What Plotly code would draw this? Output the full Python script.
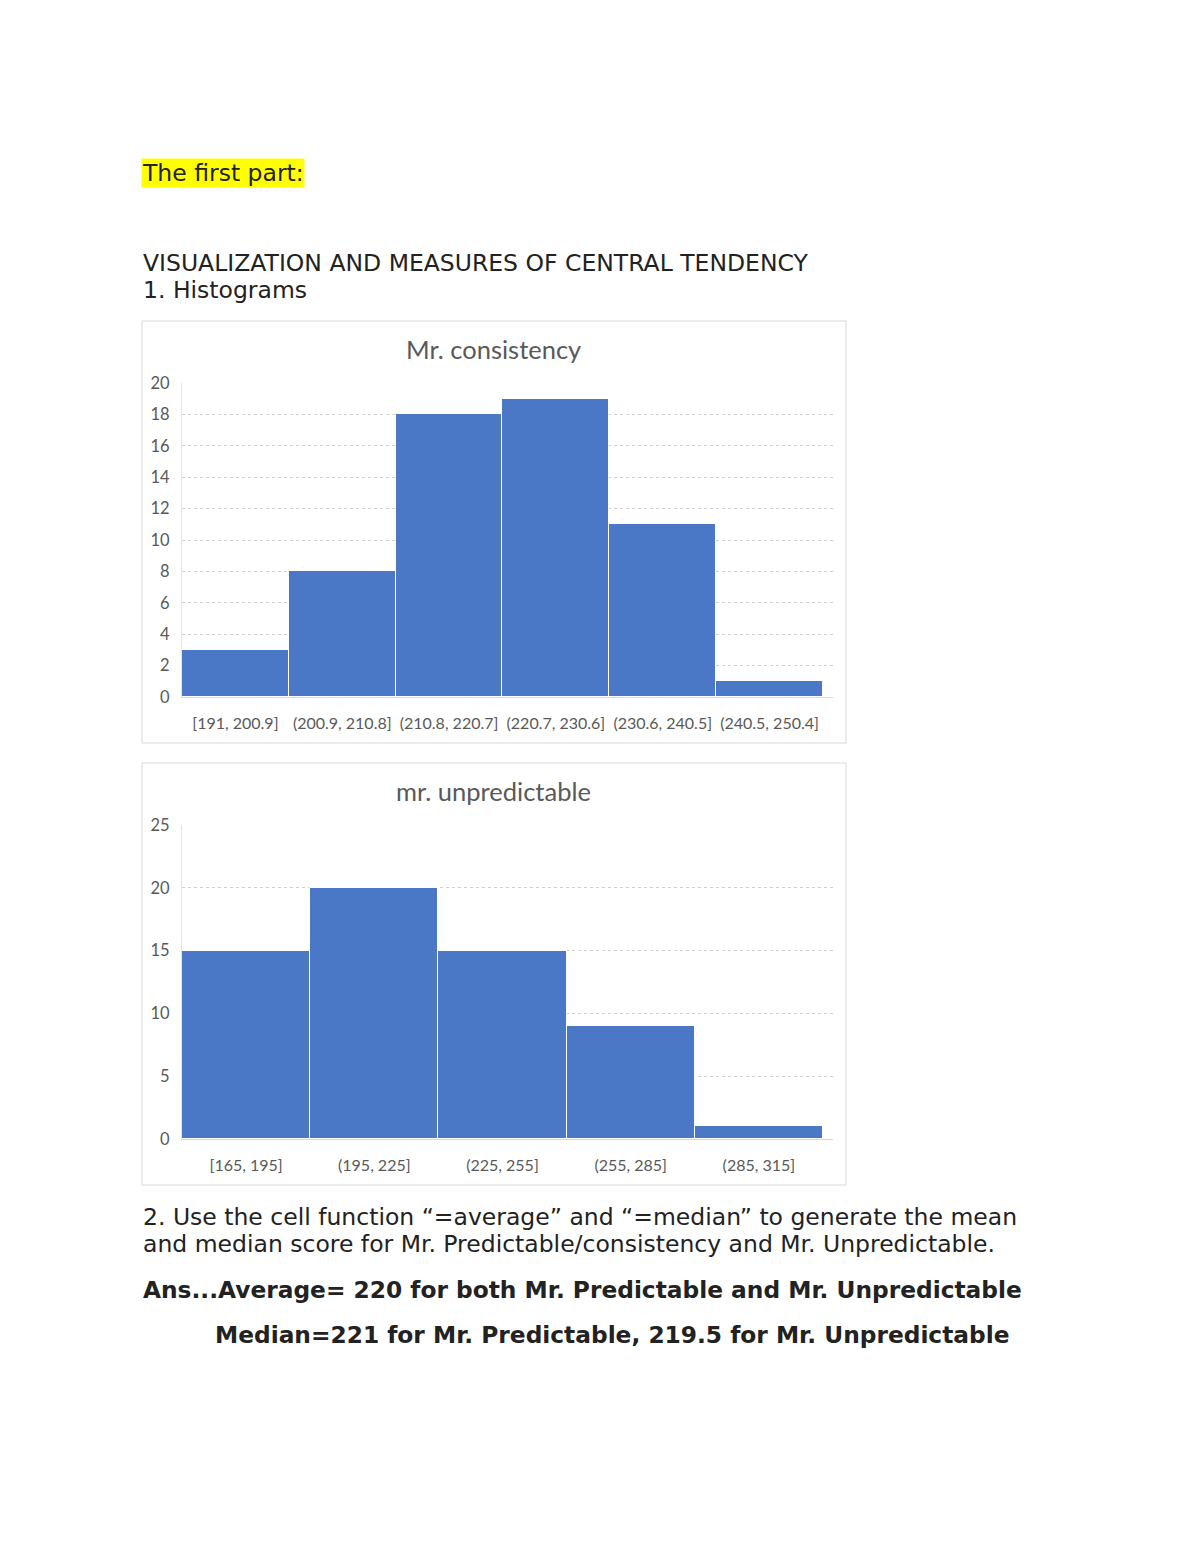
import plotly.graph_objects as go

# page body has 8px margin; keep the figure inside the 1200x1553 window
OFF = 8
FW, FH = 1200 - 2 * OFF, 1553 - 2 * OFF

# ---- data ----
consistency_bins = ["[191, 200.9]", "(200.9, 210.8]", "(210.8, 220.7]", "(220.7, 230.6]", "(230.6, 240.5]", "(240.5, 250.4]"]
consistency_counts = [3, 8, 18, 19, 11, 1]
unpredictable_bins = ["[165, 195]", "(195, 225]", "(225, 255]", "(255, 285]", "(285, 315]"]
unpredictable_counts = [15, 20, 15, 9, 1]
consistency_yticks = [0, 2, 4, 6, 8, 10, 12, 14, 16, 18, 20]
unpredictable_yticks = [0, 5, 10, 15, 20, 25]

BAR = "#4a78c6"
GRID = "#d0d0d0"
TICKC = "#595959"
TXT = "#222222"
BODY_FONT = "DejaVu Sans"
CHART_FONT = "Lato"
BODY_SIZE = 23.5


def px(x):
    return (x - OFF) / FW


def py(y):
    return 1 - (y - OFF) / FH


fig = go.Figure()
fig.add_trace(go.Bar(x=consistency_bins, y=consistency_counts, marker=dict(color=BAR, line=dict(color="white", width=1)),
                     xaxis="x", yaxis="y", showlegend=False, hoverinfo="x+y"))
fig.add_trace(go.Bar(x=unpredictable_bins, y=unpredictable_counts, marker=dict(color=BAR, line=dict(color="white", width=1)),
                     xaxis="x2", yaxis="y2", showlegend=False, hoverinfo="x+y"))

xcommon = dict(showgrid=False, showline=True, linecolor="#d9d9d9", linewidth=1, ticks="",
               tickfont=dict(family=CHART_FONT, size=16, color=TICKC), ticklabelstandoff=12, fixedrange=True)
ycommon = dict(showgrid=True, gridcolor=GRID, griddash="dot", gridwidth=1, zeroline=False, showline=True,
               linecolor="#e3e3e3", linewidth=1, ticks="", tickfont=dict(family=CHART_FONT, size=16.5, color=TICKC),
               ticklabelstandoff=8, fixedrange=True)

n1 = len(consistency_bins)
n2 = len(unpredictable_bins)
fig.update_layout(
    width=FW, height=FH, margin=dict(l=0, r=0, t=0, b=0, autoexpand=False),
    paper_bgcolor="white", plot_bgcolor="white", bargap=0,
    xaxis=dict(domain=[px(182), px(833)], anchor="y", range=[-0.5, n1 - 0.5 + 0.094], **xcommon),
    yaxis=dict(domain=[py(697), py(383)], anchor="x", range=[0, 20], tickvals=consistency_yticks, **ycommon),
    xaxis2=dict(domain=[px(182), px(833)], anchor="y2", range=[-0.5, n2 - 0.5 + 0.078], **xcommon),
    yaxis2=dict(domain=[py(1139), py(825)], anchor="x2", range=[0, 25], tickvals=unpredictable_yticks, **ycommon),
)

# chart borders
for (x0, y0, x1, y1) in [(142, 321, 846, 743), (142, 763, 846, 1185)]:
    fig.add_shape(type="rect", xref="paper", yref="paper", x0=px(x0), x1=px(x1), y0=py(y0), y1=py(y1),
                  line=dict(color="#d9d9d9", width=1), fillcolor="rgba(0,0,0,0)", layer="below")

annotations = [
    dict(text="Mr. consistency", x=px(493), y=py(349), xanchor="center", font=dict(family=CHART_FONT, size=25.5, color=TICKC)),
    dict(text="mr. unpredictable", x=px(493), y=py(791), xanchor="center", font=dict(family=CHART_FONT, size=25.5, color=TICKC)),
    dict(text="The first part:", x=px(141), y=py(173), xanchor="left", bgcolor="#ffff00", borderpad=0,
         font=dict(family=BODY_FONT, size=BODY_SIZE, color=TXT)),
    dict(text="VISUALIZATION AND MEASURES OF CENTRAL TENDENCY", x=px(141), y=py(263), xanchor="left",
         font=dict(family=BODY_FONT, size=BODY_SIZE, color=TXT)),
    dict(text="1. Histograms", x=px(141), y=py(290), xanchor="left", font=dict(family=BODY_FONT, size=BODY_SIZE, color=TXT)),
    dict(text="2. Use the cell function \u201c=average\u201d and \u201c=median\u201d to generate the mean", x=px(141), y=py(1217),
         xanchor="left", font=dict(family=BODY_FONT, size=BODY_SIZE, color=TXT)),
    dict(text="and median score for Mr. Predictable/consistency and Mr. Unpredictable.", x=px(141), y=py(1244),
         xanchor="left", font=dict(family=BODY_FONT, size=BODY_SIZE, color=TXT)),
    dict(text="<b>Ans...Average= 220 for both Mr. Predictable and Mr. Unpredictable</b>", x=px(141), y=py(1289),
         xanchor="left", font=dict(family=BODY_FONT, size=23.3, color=TXT)),
    dict(text="<b>Median=221 for Mr. Predictable, 219.5 for Mr. Unpredictable</b>", x=px(213), y=py(1334),
         xanchor="left", font=dict(family=BODY_FONT, size=23.3, color=TXT)),
]
for a in annotations:
    fig.add_annotation(xref="paper", yref="paper", yanchor="middle", showarrow=False, **a)

fig.write_html("out.html")
